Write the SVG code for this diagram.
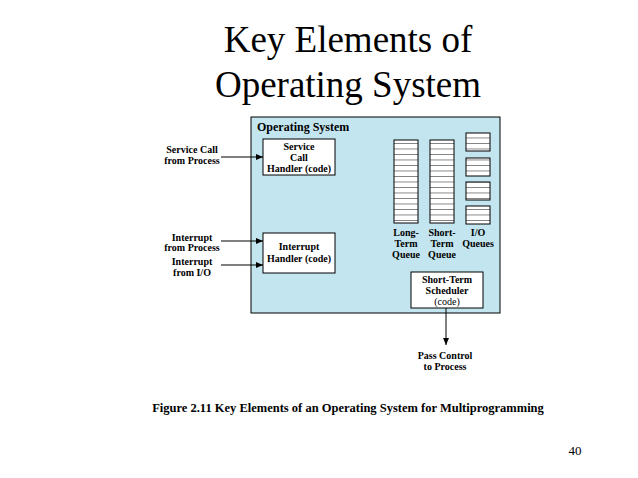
<svg xmlns="http://www.w3.org/2000/svg" width="638" height="478" viewBox="0 0 638 478">
<style>
text{font-family:"Liberation Serif",serif;fill:#000}
.t{font-size:37px;text-anchor:middle}
.b{font-size:10px;font-weight:bold;text-anchor:middle}
.box{fill:#fff;stroke:#000;stroke-width:1}
.ln{stroke:#000;stroke-width:1;fill:none}
</style>
<defs><marker id="a" markerWidth="8" markerHeight="8" refX="7" refY="3" orient="auto" markerUnits="userSpaceOnUse"><path d="M0,0 L7,3 L0,6 Z"/></marker>
<pattern id="rows" width="200" height="5.5" patternUnits="userSpaceOnUse"><rect width="200" height="5.5" fill="#fff"/><line x1="0" y1="0" x2="200" y2="0" stroke="#000" stroke-width="1"/></pattern></defs>
<rect width="638" height="478" fill="#fff"/>
<text class="t" x="348" y="52">Key Elements of</text>
<text class="t" x="348" y="97">Operating System</text>
<g id="os"><rect x="251" y="117" width="249" height="196" fill="#c3e5ef" stroke="#000"/>
<text x="257" y="131" style="font-size:12px;font-weight:bold">Operating System</text></g>
<g id="sch"><rect class="box" x="263" y="139" width="72" height="36"/>
<text class="b" x="299" y="150">Service</text><text class="b" x="299" y="161">Call</text><text class="b" x="299" y="172">Handler (code)</text></g>
<g id="ih"><rect class="box" x="263" y="233" width="72" height="40"/>
<text class="b" x="299" y="250">Interrupt</text><text class="b" x="299" y="262">Handler (code)</text></g>
<g id="ltq"><rect x="394" y="140" width="24" height="83" fill="url(#rows)" stroke="#000"/>
<text class="b" x="406" y="236">Long-</text><text class="b" x="406" y="247">Term</text><text class="b" x="406" y="258">Queue</text></g>
<g id="stq"><rect x="430" y="140" width="24" height="83" fill="url(#rows)" stroke="#000"/>
<text class="b" x="442" y="236">Short-</text><text class="b" x="442" y="247">Term</text><text class="b" x="442" y="258">Queue</text></g>
<g id="ioq">
<rect x="466" y="133" width="24" height="18" fill="url(#rows)" stroke="#000"/>
<rect x="466" y="158" width="24" height="18" fill="url(#rows)" stroke="#000"/>
<rect x="466" y="182" width="24" height="18" fill="url(#rows)" stroke="#000"/>
<rect x="466" y="206" width="24" height="18" fill="url(#rows)" stroke="#000"/>
<text class="b" x="478" y="236">I/O</text><text class="b" x="478" y="247">Queues</text></g>
<g id="sts"><rect class="box" x="411" y="272" width="72" height="36"/>
<text class="b" x="447" y="283">Short-Term</text><text class="b" x="447" y="294">Scheduler</text><text class="b" x="447" y="305" style="font-weight:normal">(code)</text></g>
<g id="labels">
<text class="b" x="192" y="153">Service Call</text><text class="b" x="192" y="164">from Process</text>
<text class="b" x="192" y="241">Interrupt</text><text class="b" x="192" y="251">from Process</text>
<text class="b" x="192" y="265">Interrupt</text><text class="b" x="192" y="276">from I/O</text>
<text class="b" x="445" y="359">Pass Control</text><text class="b" x="445" y="370">to Process</text></g>
<g id="connectors">
<line class="ln" x1="221" y1="157" x2="263" y2="157" marker-end="url(#a)"/>
<line class="ln" x1="221" y1="241" x2="263" y2="241" marker-end="url(#a)"/>
<line class="ln" x1="221" y1="265" x2="263" y2="265" marker-end="url(#a)"/>
<line class="ln" x1="446" y1="308" x2="446" y2="345" marker-end="url(#a)"/>
</g>
<text x="348" y="412" style="font-size:12.5px;font-weight:bold;text-anchor:middle">Figure 2.11  Key Elements of an Operating System for Multiprogramming</text>
<text x="575" y="455" style="font-size:13px;text-anchor:middle">40</text>
</svg>
